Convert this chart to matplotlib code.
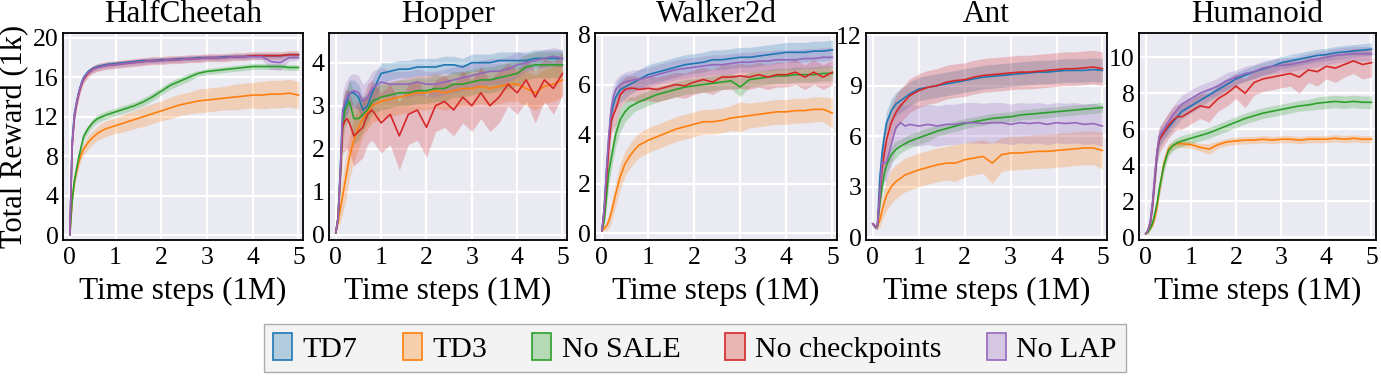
import numpy as np
import matplotlib
matplotlib.use("Agg")
import matplotlib.pyplot as plt
from matplotlib.patches import Patch

plt.rcParams['font.family'] = ['Liberation Serif', 'DejaVu Serif']

# time steps (1M)
x = [0, 0.05, 0.1, 0.15, 0.2, 0.25, 0.3, 0.4, 0.5, 0.6, 0.7, 0.8,
     1.0, 1.2, 1.4, 1.6, 1.8, 2.0, 2.2, 2.4, 2.6, 2.8, 3.0,
     3.2, 3.4, 3.6, 3.8, 4.0, 4.2, 4.4, 4.6, 4.8, 5.0]

envs = ["HalfCheetah", "Hopper", "Walker2d", "Ant", "Humanoid"]
methods = ["TD7", "TD3", "No SALE", "No checkpoints", "No LAP"]
colors = ["#1f77b4", "#ff7f0e", "#2ca02c", "#d62728", "#9467bd"]

# ---- HalfCheetah
hc_td7 = [0, 9.5, 12.3, 13.6, 14.6, 15.4, 16.0, 16.6, 16.9, 17.1, 17.2, 17.3,
          17.4, 17.5, 17.6, 17.7, 17.7, 17.8, 17.8, 17.9, 17.9, 18.0, 18.0,
          18.0, 18.1, 18.1, 18.1, 18.2, 18.2, 18.2, 18.2, 18.3, 18.3]
hc_td3 = [0, 3.5, 5.5, 6.5, 7.5, 8.2, 8.7, 9.4, 9.9, 10.3, 10.6, 10.8,
          11.1, 11.4, 11.7, 12.0, 12.3, 12.6, 12.9, 13.2, 13.4, 13.6, 13.7,
          13.8, 13.9, 14.0, 14.1, 14.2, 14.2, 14.3, 14.3, 14.4, 14.2]
hc_nosale = [0, 3.5, 5.5, 6.8, 8.0, 9.0, 10.0, 10.8, 11.4, 11.8, 12.0, 12.2,
             12.5, 12.8, 13.1, 13.5, 14.0, 14.6, 15.2, 15.6, 16.0, 16.4, 16.6,
             16.7, 16.8, 16.9, 17.0, 17.1, 17.1, 17.1, 17.1, 17.0, 17.0]
hc_nockpt = [0, 9.0, 12.0, 13.4, 14.4, 15.2, 15.8, 16.4, 16.8, 17.0, 17.1, 17.2,
             17.3, 17.4, 17.5, 17.6, 17.7, 17.7, 17.8, 17.8, 17.9, 17.9, 18.0,
             18.0, 18.0, 18.1, 18.1, 18.2, 18.2, 18.2, 18.2, 18.3, 18.3]
hc_nolap = [0, 9.2, 12.1, 13.5, 14.5, 15.3, 15.9, 16.5, 16.8, 17.0, 17.1, 17.2,
            17.3, 17.4, 17.5, 17.6, 17.7, 17.7, 17.8, 17.8, 17.9, 17.9, 18.0,
            18.0, 18.0, 18.1, 18.1, 18.1, 18.1, 17.6, 17.5, 18.0, 18.0]
hc_td7_sd = [0, 0.6, 0.5, 0.5, 0.4, 0.3, 0.3, 0.2, 0.2, 0.2, 0.2, 0.2,
             0.2, 0.2, 0.2, 0.2, 0.2, 0.2, 0.2, 0.2, 0.2, 0.2, 0.2,
             0.2, 0.2, 0.2, 0.2, 0.2, 0.2, 0.2, 0.2, 0.2, 0.2]
hc_td3_sd = [0, 0.3, 0.5, 0.5, 0.6, 0.6, 0.6, 0.7, 0.7, 0.7, 0.8, 0.8,
             0.8, 0.9, 0.9, 1.0, 1.0, 1.0, 1.1, 1.1, 1.1, 1.2, 1.2,
             1.2, 1.2, 1.3, 1.3, 1.3, 1.4, 1.4, 1.4, 1.4, 1.4]
hc_nosale_sd = [0, 0.3, 0.5, 0.5, 0.5, 0.5, 0.5, 0.4, 0.4, 0.4, 0.4, 0.4,
                0.4, 0.4, 0.4, 0.4, 0.4, 0.4, 0.4, 0.4, 0.4, 0.3, 0.3,
                0.3, 0.3, 0.3, 0.3, 0.3, 0.3, 0.3, 0.3, 0.3, 0.3]
hc_nockpt_sd = [0, 0.6, 0.5, 0.5, 0.5, 0.4, 0.4, 0.4, 0.4, 0.4, 0.4, 0.4,
                0.4, 0.4, 0.4, 0.4, 0.4, 0.4, 0.4, 0.4, 0.4, 0.4, 0.4,
                0.4, 0.4, 0.4, 0.4, 0.4, 0.4, 0.4, 0.4, 0.4, 0.4]
hc_nolap_sd = [0, 0.6, 0.5, 0.5, 0.4, 0.3, 0.3, 0.3, 0.3, 0.3, 0.3, 0.3,
               0.3, 0.3, 0.3, 0.3, 0.3, 0.3, 0.3, 0.3, 0.3, 0.3, 0.3,
               0.3, 0.3, 0.3, 0.3, 0.3, 0.3, 0.8, 0.8, 0.3, 0.3]

# ---- Hopper
hop_td7 = [0.05, 0.4, 1.5, 2.8, 3.0, 3.1, 3.3, 3.3, 3.2, 2.9, 3.0, 3.3,
           3.75, 3.8, 3.85, 3.85, 3.9, 3.9, 3.9, 3.95, 3.95, 3.9, 4.0,
           4.0, 4.0, 4.05, 4.05, 4.05, 4.05, 4.1, 4.1, 4.1, 4.1]
hop_td3 = [0.05, 0.3, 0.6, 0.9, 1.2, 1.5, 1.8, 2.2, 2.5, 2.7, 2.85, 3.0,
           3.1, 3.15, 3.2, 3.25, 3.3, 3.3, 3.35, 3.3, 3.35, 3.4, 3.4,
           3.45, 3.4, 3.45, 3.5, 3.5, 3.4, 3.3, 3.45, 3.5, 3.6]
hop_nosale = [0.05, 0.4, 1.4, 2.5, 2.9, 3.0, 3.1, 2.7, 2.7, 2.8, 2.9, 3.1,
              3.2, 3.25, 3.3, 3.3, 3.35, 3.35, 3.4, 3.4, 3.5, 3.5, 3.55,
              3.6, 3.6, 3.65, 3.7, 3.75, 3.9, 3.95, 3.95, 3.95, 3.95]
hop_nockpt = [0.05, 0.4, 1.4, 2.5, 2.65, 2.7, 2.6, 2.3, 2.4, 2.5, 2.8, 2.9,
              2.6, 2.8, 2.3, 2.8, 2.9, 2.5, 3.0, 3.1, 2.9, 3.2, 3.0,
              3.3, 3.0, 3.2, 3.5, 3.3, 3.6, 3.2, 3.6, 3.4, 3.75]
hop_nolap = [0.05, 0.4, 1.5, 2.9, 3.1, 3.2, 3.3, 3.35, 3.3, 3.1, 3.2, 3.4,
             3.55, 3.5, 3.5, 3.5, 3.55, 3.5, 3.5, 3.55, 3.6, 3.65, 3.7,
             3.75, 3.8, 3.8, 3.85, 3.95, 4.0, 4.05, 4.1, 4.15, 4.1]
hop_td7_sd = [0, 0.1, 0.3, 0.3, 0.3, 0.3, 0.3, 0.3, 0.3, 0.3, 0.3, 0.3,
              0.25, 0.2, 0.2, 0.2, 0.2, 0.2, 0.2, 0.2, 0.2, 0.2, 0.2,
              0.2, 0.2, 0.2, 0.2, 0.2, 0.2, 0.2, 0.2, 0.2, 0.2]
hop_td3_sd = [0, 0.1, 0.3, 0.4, 0.5, 0.5, 0.5, 0.5, 0.5, 0.4, 0.4, 0.4,
              0.4, 0.4, 0.4, 0.4, 0.4, 0.4, 0.4, 0.4, 0.4, 0.4, 0.4,
              0.4, 0.4, 0.4, 0.4, 0.4, 0.4, 0.4, 0.4, 0.4, 0.4]
hop_nosale_sd = [0, 0.1, 0.3, 0.4, 0.4, 0.4, 0.5, 0.6, 0.5, 0.4, 0.3, 0.3,
                 0.3, 0.3, 0.3, 0.3, 0.3, 0.3, 0.3, 0.3, 0.3, 0.3, 0.3,
                 0.3, 0.3, 0.3, 0.3, 0.3, 0.3, 0.3, 0.3, 0.3, 0.3]
hop_nockpt_sd = [0, 0.1, 0.4, 0.6, 0.7, 0.7, 0.7, 0.7, 0.7, 0.7, 0.7, 0.7,
                 0.7, 0.7, 0.8, 0.7, 0.7, 0.7, 0.6, 0.6, 0.6, 0.6, 0.6,
                 0.6, 0.6, 0.6, 0.5, 0.5, 0.5, 0.6, 0.5, 0.6, 0.5]
hop_nolap_sd = [0, 0.1, 0.3, 0.4, 0.4, 0.4, 0.4, 0.4, 0.4, 0.4, 0.4, 0.4,
                0.35, 0.3, 0.3, 0.3, 0.3, 0.3, 0.3, 0.3, 0.3, 0.3, 0.3,
                0.3, 0.3, 0.3, 0.3, 0.3, 0.2, 0.2, 0.2, 0.2, 0.2]

# ---- Walker2d
wk_td7 = [0.1, 1.0, 2.5, 3.8, 4.8, 5.2, 5.5, 5.8, 5.9, 6.0, 6.1, 6.2,
          6.4, 6.5, 6.6, 6.7, 6.8, 6.85, 6.9, 7.0, 7.0, 7.05, 7.1,
          7.1, 7.15, 7.2, 7.25, 7.3, 7.3, 7.3, 7.35, 7.35, 7.4]
wk_td3 = [0.1, 0.2, 0.3, 0.5, 0.8, 1.2, 1.6, 2.3, 2.8, 3.1, 3.35, 3.55,
          3.75, 3.9, 4.05, 4.2, 4.3, 4.4, 4.5, 4.5, 4.55, 4.65, 4.7,
          4.75, 4.8, 4.85, 4.9, 4.9, 4.95, 4.95, 5.0, 5.0, 4.85]
wk_nosale = [0.1, 0.5, 1.5, 2.5, 3.0, 3.5, 4.0, 4.6, 4.9, 5.1, 5.2, 5.3,
             5.45, 5.6, 5.7, 5.8, 5.9, 5.95, 6.0, 6.05, 6.1, 6.15, 5.9,
             6.2, 6.25, 6.3, 6.35, 6.35, 6.4, 6.4, 6.4, 6.45, 6.45]
wk_nockpt = [0.1, 0.9, 2.2, 3.5, 4.5, 4.8, 5.0, 5.6, 5.8, 5.85, 5.85, 5.8,
             5.85, 5.8, 5.9, 6.0, 5.95, 6.1, 6.2, 6.1, 6.3, 6.3, 6.35,
             6.3, 6.4, 6.3, 6.4, 6.4, 6.5, 6.3, 6.5, 6.3, 6.5]
wk_nolap = [0.1, 1.0, 2.6, 4.0, 5.0, 5.5, 5.8, 6.0, 6.1, 6.15, 6.2, 6.2,
            6.3, 6.4, 6.5, 6.6, 6.65, 6.7, 6.75, 6.8, 6.8, 6.85, 6.9,
            6.9, 6.95, 6.95, 7.0, 7.0, 7.0, 7.05, 7.05, 7.1, 7.1]
wk_td7_sd = [0, 0.3, 0.5, 0.6, 0.6, 0.5, 0.5, 0.5, 0.5, 0.4, 0.4, 0.4,
             0.4, 0.4, 0.4, 0.4, 0.4, 0.4, 0.4, 0.4, 0.4, 0.4, 0.4,
             0.4, 0.4, 0.4, 0.4, 0.4, 0.4, 0.4, 0.4, 0.4, 0.4]
wk_td3_sd = [0, 0.1, 0.2, 0.3, 0.4, 0.4, 0.5, 0.5, 0.5, 0.5, 0.5, 0.5,
             0.5, 0.5, 0.5, 0.5, 0.5, 0.5, 0.5, 0.5, 0.5, 0.5, 0.6,
             0.5, 0.5, 0.5, 0.5, 0.5, 0.5, 0.5, 0.5, 0.5, 0.6]
wk_nosale_sd = [0, 0.2, 0.4, 0.5, 0.5, 0.5, 0.5, 0.5, 0.4, 0.4, 0.3, 0.3,
                0.3, 0.3, 0.3, 0.3, 0.3, 0.3, 0.3, 0.3, 0.3, 0.3, 0.4,
                0.3, 0.3, 0.3, 0.3, 0.3, 0.3, 0.3, 0.3, 0.3, 0.3]
wk_nockpt_sd = [0, 0.3, 0.5, 0.6, 0.6, 0.6, 0.6, 0.5, 0.5, 0.5, 0.5, 0.5,
                0.5, 0.5, 0.5, 0.5, 0.5, 0.5, 0.5, 0.5, 0.5, 0.5, 0.5,
                0.5, 0.5, 0.5, 0.5, 0.5, 0.5, 0.5, 0.5, 0.5, 0.5]
wk_nolap_sd = [0, 0.3, 0.5, 0.6, 0.6, 0.5, 0.4, 0.4, 0.4, 0.4, 0.4, 0.4,
               0.4, 0.4, 0.4, 0.4, 0.4, 0.4, 0.4, 0.4, 0.4, 0.4, 0.4,
               0.4, 0.4, 0.4, 0.4, 0.4, 0.4, 0.4, 0.4, 0.4, 0.4]

# ---- Ant
ant_td7 = [0.8, 0.6, 0.7, 3.5, 5.0, 6.0, 6.8, 7.5, 7.9, 8.1, 8.3, 8.5,
           8.8, 8.9, 9.0, 9.1, 9.2, 9.3, 9.4, 9.5, 9.55, 9.6, 9.65,
           9.7, 9.75, 9.8, 9.8, 9.85, 9.9, 9.9, 9.9, 9.95, 9.9]
ant_td3 = [0.8, 0.6, 0.7, 1.0, 1.6, 2.1, 2.5, 3.0, 3.3, 3.5, 3.7, 3.8,
           4.0, 4.15, 4.3, 4.4, 4.4, 4.6, 4.7, 4.8, 4.4, 4.9, 5.0,
           5.0, 5.05, 5.1, 5.1, 5.15, 5.2, 5.25, 5.3, 5.3, 5.15]
ant_nosale = [0.8, 0.6, 0.7, 2.0, 3.0, 3.8, 4.3, 4.9, 5.2, 5.4, 5.55, 5.7,
              5.9, 6.1, 6.3, 6.45, 6.6, 6.75, 6.85, 6.95, 7.05, 7.1, 7.15,
              7.25, 7.3, 7.35, 7.4, 7.45, 7.5, 7.55, 7.6, 7.65, 7.7]
ant_nockpt = [0.8, 0.6, 0.7, 2.5, 4.0, 5.0, 5.8, 6.8, 7.4, 7.8, 8.1, 8.4,
              8.7, 8.9, 9.0, 9.2, 9.3, 9.35, 9.5, 9.6, 9.65, 9.7, 9.75,
              9.8, 9.8, 9.85, 9.9, 9.95, 10.0, 10.0, 10.05, 10.1, 10.0]
ant_nolap = [0.8, 0.6, 0.7, 2.5, 4.5, 4.4, 4.5, 5.5, 6.5, 6.8, 6.6, 6.7,
             6.6, 6.7, 6.6, 6.7, 6.7, 6.8, 6.8, 6.75, 6.8, 6.8, 6.7,
             6.8, 6.75, 6.8, 6.7, 6.8, 6.75, 6.8, 6.7, 6.75, 6.6]
ant_td7_sd = [0.1, 0.1, 0.2, 0.6, 0.7, 0.7, 0.7, 0.7, 0.7, 0.7, 0.7, 0.7,
              0.7, 0.7, 0.7, 0.7, 0.7, 0.7, 0.7, 0.7, 0.7, 0.7, 0.7,
              0.7, 0.7, 0.7, 0.7, 0.7, 0.7, 0.7, 0.7, 0.7, 0.7]
ant_td3_sd = [0.1, 0.1, 0.2, 0.4, 0.6, 0.8, 0.9, 1.0, 1.0, 1.0, 1.0, 1.0,
              1.0, 1.0, 1.0, 1.0, 1.1, 1.0, 1.0, 1.0, 1.2, 1.0, 1.0,
              1.0, 1.0, 1.0, 1.0, 1.0, 1.0, 1.0, 1.0, 1.0, 1.1]
ant_nosale_sd = [0.1, 0.1, 0.2, 0.4, 0.5, 0.5, 0.5, 0.5, 0.5, 0.4, 0.4, 0.4,
                 0.4, 0.4, 0.3, 0.3, 0.3, 0.3, 0.3, 0.3, 0.3, 0.3, 0.3,
                 0.3, 0.3, 0.3, 0.3, 0.3, 0.3, 0.3, 0.3, 0.3, 0.3]
ant_nockpt_sd = [0.1, 0.1, 0.2, 0.7, 0.9, 1.0, 1.0, 1.0, 1.0, 1.0, 1.0, 1.0,
                 1.0, 1.0, 1.0, 1.0, 1.0, 1.0, 1.0, 1.0, 1.0, 1.0, 1.0,
                 1.0, 1.0, 1.0, 1.0, 1.0, 1.0, 1.0, 1.0, 1.0, 1.0]
ant_nolap_sd = [0.1, 0.1, 0.2, 0.7, 1.0, 1.1, 1.2, 1.2, 1.2, 1.2, 1.2, 1.2,
                1.2, 1.2, 1.2, 1.2, 1.2, 1.2, 1.2, 1.2, 1.2, 1.2, 1.2,
                1.2, 1.2, 1.2, 1.2, 1.2, 1.2, 1.2, 1.2, 1.2, 1.2]

# ---- Humanoid
hum_td7 = [0.2, 0.4, 0.8, 1.8, 3.2, 4.6, 5.5, 5.8, 6.1, 6.4, 6.7, 7.0,
           7.3, 7.6, 7.9, 8.2, 8.5, 8.8, 9.0, 9.2, 9.35, 9.5, 9.7,
           9.8, 9.9, 10.0, 10.1, 10.15, 10.25, 10.3, 10.35, 10.4, 10.45]
hum_td3 = [0.2, 0.3, 0.5, 0.7, 1.1, 1.7, 2.6, 4.1, 4.9, 5.1, 5.2, 5.2,
           5.15, 5.0, 4.9, 5.15, 5.3, 5.35, 5.4, 5.4, 5.45, 5.4, 5.45,
           5.45, 5.4, 5.45, 5.45, 5.45, 5.5, 5.45, 5.5, 5.45, 5.45]
hum_nosale = [0.2, 0.3, 0.5, 0.8, 1.3, 1.9, 2.7, 4.0, 4.8, 5.1, 5.25, 5.35,
              5.5, 5.65, 5.8, 6.0, 6.2, 6.4, 6.6, 6.75, 6.9, 7.0, 7.1,
              7.2, 7.3, 7.35, 7.45, 7.5, 7.55, 7.5, 7.55, 7.5, 7.5]
hum_nockpt = [0.2, 0.4, 0.8, 1.8, 3.3, 4.8, 5.4, 5.8, 6.2, 6.5, 6.7, 6.7,
              7.0, 7.3, 7.2, 7.7, 8.0, 8.4, 8.0, 8.6, 8.8, 8.9, 9.0,
              9.1, 8.9, 9.3, 9.2, 9.5, 9.4, 9.6, 9.8, 9.6, 9.7]
hum_nolap = [0.2, 0.4, 0.9, 2.0, 3.5, 4.8, 5.6, 6.0, 6.4, 6.8, 7.1, 7.4,
             7.7, 8.0, 8.2, 8.4, 8.7, 8.9, 9.1, 9.2, 9.4, 9.5, 9.55,
             9.6, 9.7, 9.8, 9.9, 10.0, 10.1, 10.15, 10.2, 10.2, 10.2]
hum_td7_sd = [0, 0.1, 0.2, 0.4, 0.5, 0.5, 0.5, 0.4, 0.4, 0.4, 0.4, 0.4,
              0.4, 0.35, 0.35, 0.35, 0.35, 0.35, 0.35, 0.35, 0.35, 0.35, 0.35,
              0.35, 0.35, 0.35, 0.35, 0.35, 0.35, 0.35, 0.35, 0.35, 0.35]
hum_td3_sd = [0, 0.1, 0.1, 0.1, 0.2, 0.3, 0.3, 0.3, 0.3, 0.2, 0.2, 0.2,
              0.2, 0.2, 0.3, 0.2, 0.2, 0.2, 0.2, 0.2, 0.2, 0.2, 0.2,
              0.2, 0.2, 0.2, 0.2, 0.2, 0.2, 0.2, 0.2, 0.2, 0.2]
hum_nosale_sd = [0, 0.1, 0.1, 0.2, 0.3, 0.3, 0.4, 0.4, 0.3, 0.3, 0.3, 0.3,
                 0.3, 0.3, 0.3, 0.3, 0.3, 0.3, 0.3, 0.3, 0.3, 0.3, 0.3,
                 0.3, 0.3, 0.3, 0.35, 0.35, 0.35, 0.35, 0.35, 0.35, 0.35]
hum_nockpt_sd = [0, 0.1, 0.2, 0.4, 0.6, 0.7, 0.7, 0.7, 0.7, 0.7, 0.7, 0.7,
                 0.7, 0.7, 0.8, 0.7, 0.7, 0.7, 0.8, 0.7, 0.7, 0.7, 0.7,
                 0.7, 0.9, 0.7, 0.8, 0.7, 0.8, 0.7, 0.7, 0.8, 0.8]
hum_nolap_sd = [0, 0.1, 0.2, 0.4, 0.5, 0.5, 0.5, 0.5, 0.5, 0.5, 0.5, 0.5,
                0.5, 0.45, 0.45, 0.45, 0.45, 0.4, 0.4, 0.4, 0.4, 0.4, 0.4,
                0.4, 0.4, 0.4, 0.4, 0.4, 0.4, 0.4, 0.4, 0.4, 0.4]

means = [
    [hc_td7, hc_td3, hc_nosale, hc_nockpt, hc_nolap],
    [hop_td7, hop_td3, hop_nosale, hop_nockpt, hop_nolap],
    [wk_td7, wk_td3, wk_nosale, wk_nockpt, wk_nolap],
    [ant_td7, ant_td3, ant_nosale, ant_nockpt, ant_nolap],
    [hum_td7, hum_td3, hum_nosale, hum_nockpt, hum_nolap],
]
spreads = [
    [hc_td7_sd, hc_td3_sd, hc_nosale_sd, hc_nockpt_sd, hc_nolap_sd],
    [hop_td7_sd, hop_td3_sd, hop_nosale_sd, hop_nockpt_sd, hop_nolap_sd],
    [wk_td7_sd, wk_td3_sd, wk_nosale_sd, wk_nockpt_sd, wk_nolap_sd],
    [ant_td7_sd, ant_td3_sd, ant_nosale_sd, ant_nockpt_sd, ant_nolap_sd],
    [hum_td7_sd, hum_td3_sd, hum_nosale_sd, hum_nockpt_sd, hum_nolap_sd],
]
yticks = [[0, 4, 8, 12, 16, 20], [0, 1, 2, 3, 4], [0, 2, 4, 6, 8],
          [0, 3, 6, 9, 12], [0, 2, 4, 6, 8, 10]]
ylims = [(-0.5, 20.5), (-0.12, 4.69), (-0.27, 8.08), (-0.16, 12.12), (-0.15, 11.35)]

W, H = 1381, 377
fig = plt.figure(figsize=(W / 100, H / 100), dpi=100)
px_lr = [(63, 303), (329, 567), (595, 837), (866, 1107), (1139, 1376)]
top, bottom = 33, 240

xa = np.array(x)
for i, env in enumerate(envs):
    l, r = px_lr[i]
    ax = fig.add_axes([l / W, 1 - bottom / H, (r - l) / W, (bottom - top) / H])
    ax.set_facecolor('#eaeaf2')
    ax.grid(True, color='white', linewidth=1.6)
    ax.set_axisbelow(True)
    for m in range(5):
        mu = np.array(means[i][m])
        sd = np.array(spreads[i][m])
        ax.fill_between(xa, mu - sd, mu + sd, color=colors[m], alpha=0.25, linewidth=0)
        ax.plot(xa, mu, color=colors[m], linewidth=1.2)
    ax.set_xlim(-0.15, 5.1)
    ax.set_ylim(*ylims[i])
    ax.set_xticks([0, 1, 2, 3, 4, 5])
    ax.set_yticks(yticks[i])
    ax.tick_params(length=0, labelsize=18.5)
    ax.tick_params(axis='x', pad=5)
    ax.tick_params(axis='y', pad=3)
    for s in ax.spines.values():
        s.set_color('black')
        s.set_linewidth(1.3)
    ax.set_title(env, fontsize=22.5, pad=8)
    ax.set_xlabel("Time steps (1M)", fontsize=22.5, labelpad=6)
    if i == 0:
        ax.set_ylabel("Total Reward (1k)", fontsize=22, labelpad=3)

handles = [Patch(facecolor=matplotlib.colors.to_rgba(c, 0.3), edgecolor=c, linewidth=1.2)
           for c in colors]
leg = fig.legend(handles, methods, loc='center', bbox_to_anchor=(695 / W, 1 - 348 / H),
                 ncol=5, fontsize=21.5, frameon=True, fancybox=False,
                 handlelength=0.65, handleheight=1.0, handletextpad=0.35,
                 columnspacing=1.5, borderpad=0.3)
leg.get_frame().set_facecolor('#f0f0f0')
leg.get_frame().set_edgecolor('#999999')
leg.get_frame().set_linewidth(1.0)

fig.savefig("out.png", dpi=100)
